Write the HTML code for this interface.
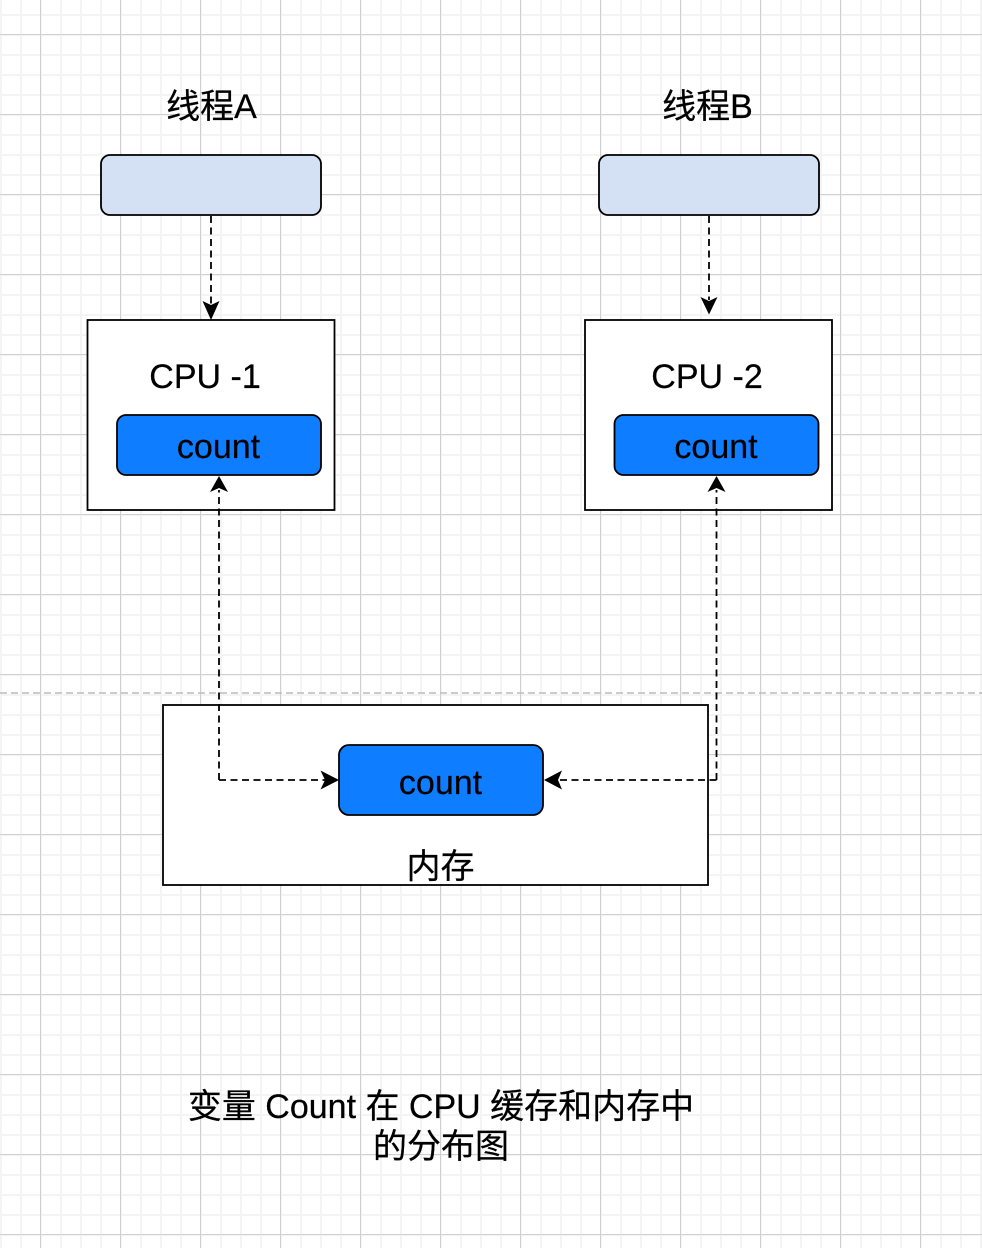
<!DOCTYPE html>
<html lang="zh">
<head>
<meta charset="utf-8">
<title>变量 Count 在 CPU 缓存和内存中的分布图</title>
<style>
html,body{margin:0;padding:0;background:#fff;}
#page{position:relative;width:982px;height:1248px;overflow:hidden;background-color:#fff;
background-image:
linear-gradient(to right,#d0d0d0 1px,transparent 1px),
linear-gradient(to bottom,#d0d0d0 1px,transparent 1px),
linear-gradient(to right,#f4f4f4 2px,transparent 2px),
linear-gradient(to bottom,#f4f4f4 2px,transparent 2px);
background-size:80px 80px,80px 80px,20px 20px,20px 20px;
background-position:40px 0,0 34px,0 0,0 14px;}
svg{position:absolute;left:0;top:0;}
text{font-family:"Liberation Sans","Noto Sans CJK SC",sans-serif;font-size:34px;fill:#000;stroke:#000;stroke-width:.25px;text-anchor:middle;}
</style>
</head>
<body>
<div id="page">
<svg width="982" height="1248" viewBox="0 0 982 1248" xmlns="http://www.w3.org/2000/svg">
<line x1="0" y1="693" x2="982" y2="693" stroke="#bbb" stroke-width="1.5" stroke-dasharray="7 4"/>

<rect x="87.5" y="320" width="247" height="190" fill="#fff" stroke="#000" stroke-width="1.8"/>
<rect x="585" y="320" width="247" height="190" fill="#fff" stroke="#000" stroke-width="1.8"/>
<rect x="163" y="705" width="545" height="180" fill="#fff" stroke="#000" stroke-width="1.8"/>

<rect x="101" y="155" width="220" height="60" rx="9" fill="#d4e1f5" stroke="#000" stroke-width="1.8"/>
<rect x="599" y="155" width="220" height="60" rx="9" fill="#d4e1f5" stroke="#000" stroke-width="1.8"/>

<rect x="117" y="415" width="204" height="60" rx="9" fill="#0f7dff" stroke="#000" stroke-width="1.8"/>
<rect x="614.5" y="415" width="204" height="60" rx="9" fill="#0f7dff" stroke="#000" stroke-width="1.8"/>
<rect x="339" y="745" width="204" height="70" rx="10" fill="#0f7dff" stroke="#000" stroke-width="1.8"/>

<g fill="none" stroke="#000" stroke-width="1.8" stroke-dasharray="7 4.500">
<path d="M211 216V306"/>
<path d="M709 216V300"/>
<path d="M219 780V490"/>
<path d="M219 780H326"/>
<path d="M716.500 780V490"/>
<path d="M716.500 780H556"/>
</g>
<g fill="#000" stroke="none">
<path d="M211 320L202.500 301L211 305L219.500 301Z"/>
<path d="M709 314.500L700.500 297L709 301L717.500 297Z"/>
<path d="M219 476L210 492L219 488L228 492Z"/>
<path d="M716.500 476L707.500 492L716.500 488L725.500 492Z"/>
<path d="M339 780L320.500 770.500L325 780L320.500 789.500Z"/>
<path d="M544 780L562 770.500L558 780L562 789.500Z"/>
</g>

<text x="211.500" y="118">线程A</text>
<text x="707.500" y="118">线程B</text>
<text x="205" y="388">CPU -1</text>
<text x="707" y="388">CPU -2</text>
<text x="218.500" y="458">count</text>
<text x="716" y="458">count</text>
<text x="440.500" y="794">count</text>
<text x="440.500" y="878">内存</text>
<text x="441" y="1118">变量 Count 在 CPU 缓存和内存中</text>
<text x="441" y="1158">的分布图</text>
</svg>
</div>
</body>
</html>
